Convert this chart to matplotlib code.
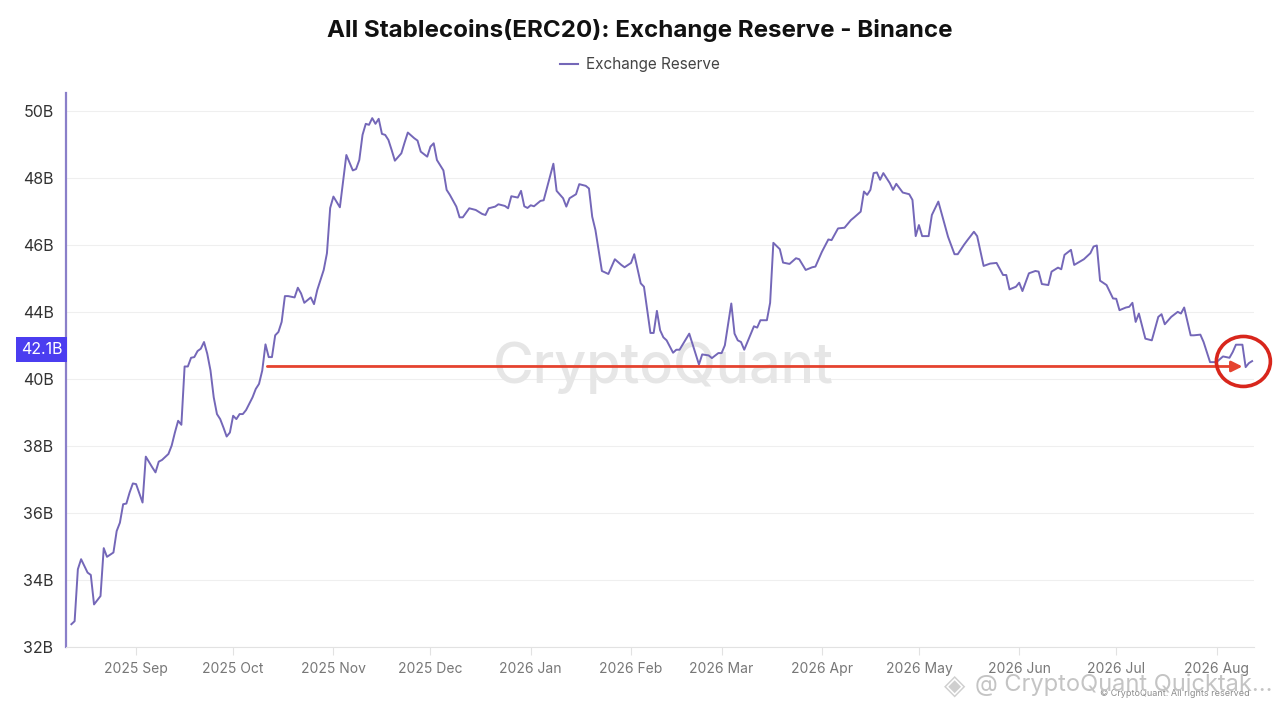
import numpy as np
import pandas as pd
import matplotlib
matplotlib.use('Agg')
import matplotlib.pyplot as plt
import matplotlib.dates as mdates
import matplotlib.transforms as mtransforms
from matplotlib.patches import Ellipse
from matplotlib.lines import Line2D

plt.rcParams['font.family'] = ['Inter', 'DejaVu Sans']

# ---- data (billions USD) ----
dates = [
    '2025-08-12', '2025-08-13', '2025-08-14', '2025-08-15', '2025-08-17', '2025-08-18', '2025-08-19',
    '2025-08-21', '2025-08-22', '2025-08-23', '2025-08-25', '2025-08-26', '2025-08-27', '2025-08-28',
    '2025-08-29', '2025-08-30', '2025-08-31', '2025-09-01', '2025-09-03', '2025-09-04', '2025-09-06',
    '2025-09-07', '2025-09-08', '2025-09-09', '2025-09-11', '2025-09-12', '2025-09-13', '2025-09-14',
    '2025-09-15', '2025-09-16', '2025-09-17', '2025-09-18', '2025-09-19', '2025-09-20', '2025-09-21',
    '2025-09-22', '2025-09-23', '2025-09-24', '2025-09-25', '2025-09-26', '2025-09-27', '2025-09-28',
    '2025-09-29', '2025-09-30', '2025-10-01', '2025-10-02', '2025-10-03', '2025-10-04', '2025-10-05',
    '2025-10-07', '2025-10-08', '2025-10-09', '2025-10-10', '2025-10-11', '2025-10-12', '2025-10-13',
    '2025-10-14', '2025-10-15', '2025-10-16', '2025-10-17', '2025-10-18', '2025-10-20', '2025-10-21',
    '2025-10-22', '2025-10-23', '2025-10-25', '2025-10-26', '2025-10-27', '2025-10-29', '2025-10-30',
    '2025-10-31', '2025-11-01', '2025-11-03', '2025-11-05', '2025-11-07', '2025-11-08', '2025-11-09',
    '2025-11-10', '2025-11-11', '2025-11-12', '2025-11-13', '2025-11-14', '2025-11-15', '2025-11-16',
    '2025-11-17', '2025-11-18', '2025-11-19', '2025-11-20', '2025-11-22', '2025-11-23', '2025-11-24',
    '2025-11-26', '2025-11-27', '2025-11-28', '2025-11-30', '2025-12-01', '2025-12-02', '2025-12-03',
    '2025-12-05', '2025-12-06', '2025-12-07', '2025-12-09', '2025-12-10', '2025-12-11', '2025-12-13',
    '2025-12-15', '2025-12-17', '2025-12-18', '2025-12-19', '2025-12-21', '2025-12-22', '2025-12-24',
    '2025-12-25', '2025-12-26', '2025-12-28', '2025-12-29', '2025-12-30', '2025-12-31', '2026-01-01',
    '2026-01-02', '2026-01-04', '2026-01-05', '2026-01-08', '2026-01-09', '2026-01-11', '2026-01-12',
    '2026-01-13', '2026-01-15', '2026-01-16', '2026-01-18', '2026-01-19', '2026-01-20', '2026-01-21',
    '2026-01-22', '2026-01-23', '2026-01-25', '2026-01-27', '2026-01-29', '2026-01-30', '2026-02-01',
    '2026-02-02', '2026-02-04', '2026-02-05', '2026-02-07', '2026-02-08', '2026-02-09', '2026-02-10',
    '2026-02-11', '2026-02-12', '2026-02-14', '2026-02-15', '2026-02-16', '2026-02-19', '2026-02-22',
    '2026-02-23', '2026-02-25', '2026-02-26', '2026-02-28', '2026-03-01', '2026-03-02', '2026-03-04',
    '2026-03-05', '2026-03-06', '2026-03-07', '2026-03-08', '2026-03-11', '2026-03-12', '2026-03-13',
    '2026-03-15', '2026-03-16', '2026-03-17', '2026-03-19', '2026-03-20', '2026-03-22', '2026-03-24',
    '2026-03-25', '2026-03-27', '2026-03-29', '2026-03-30', '2026-04-01', '2026-04-03', '2026-04-04',
    '2026-04-06', '2026-04-08', '2026-04-10', '2026-04-11', '2026-04-13', '2026-04-14', '2026-04-15',
    '2026-04-16', '2026-04-17', '2026-04-18', '2026-04-19', '2026-04-20', '2026-04-22', '2026-04-23',
    '2026-04-24', '2026-04-26', '2026-04-28', '2026-04-29', '2026-04-30', '2026-05-01', '2026-05-02',
    '2026-05-04', '2026-05-05', '2026-05-07', '2026-05-10', '2026-05-12', '2026-05-13', '2026-05-15',
    '2026-05-16', '2026-05-18', '2026-05-19', '2026-05-21', '2026-05-23', '2026-05-25', '2026-05-27',
    '2026-05-28', '2026-05-29', '2026-05-31', '2026-06-01', '2026-06-02', '2026-06-04', '2026-06-06',
    '2026-06-07', '2026-06-08', '2026-06-10', '2026-06-11', '2026-06-13', '2026-06-14', '2026-06-15',
    '2026-06-17', '2026-06-18', '2026-06-21', '2026-06-23', '2026-06-24', '2026-06-25', '2026-06-26',
    '2026-06-28', '2026-06-30', '2026-07-01', '2026-07-02', '2026-07-04', '2026-07-05', '2026-07-06',
    '2026-07-07', '2026-07-08', '2026-07-10', '2026-07-12', '2026-07-14', '2026-07-15', '2026-07-16',
    '2026-07-18', '2026-07-20', '2026-07-21', '2026-07-22', '2026-07-24', '2026-07-25', '2026-07-27',
    '2026-07-28', '2026-07-30', '2026-08-01', '2026-08-03', '2026-08-05', '2026-08-06', '2026-08-07',
    '2026-08-09', '2026-08-10', '2026-08-11', '2026-08-12',
]
reserve_b = [
    32.68, 32.77, 34.32, 34.62, 34.22, 34.15, 33.27,
    33.52, 34.95, 34.69, 34.82, 35.46, 35.71, 36.26,
    36.28, 36.61, 36.88, 36.86, 36.31, 37.68, 37.36,
    37.21, 37.53, 37.58, 37.76, 38.01, 38.40, 38.75,
    38.63, 40.74, 40.74, 41.26, 41.30, 41.66, 41.80,
    42.20, 41.50, 40.50, 39.45, 38.95, 38.80, 38.55,
    38.28, 38.40, 38.90, 38.80, 38.95, 38.95, 39.07,
    39.45, 39.70, 39.85, 40.50, 42.06, 41.30, 41.30,
    42.60, 42.80, 43.40, 44.47, 44.47, 44.43, 44.72,
    44.55, 44.27, 44.43, 44.23, 44.65, 45.25, 45.75,
    47.10, 47.44, 47.12, 48.68, 48.22, 48.26, 48.53,
    49.28, 49.61, 49.58, 49.78, 49.61, 49.76, 49.31,
    49.28, 49.13, 48.83, 48.51, 48.73, 49.05, 49.35,
    49.18, 49.11, 48.78, 48.63, 48.93, 49.03, 48.53,
    48.22, 47.64, 47.49, 47.14, 46.82, 46.82, 47.09,
    47.04, 46.92, 46.89, 47.09, 47.14, 47.21, 47.16,
    47.09, 47.45, 47.41, 47.61, 47.15, 47.10, 47.18,
    47.15, 47.31, 47.33, 48.42, 47.61, 47.39, 47.14,
    47.39, 47.51, 47.81, 47.76, 47.68, 46.84, 46.44,
    45.84, 45.22, 45.13, 45.57, 45.40, 45.33, 45.46,
    45.72, 44.85, 44.75, 42.74, 42.74, 44.03, 42.90,
    42.48, 42.30, 41.56, 41.74, 41.74, 42.70, 40.86,
    41.46, 41.40, 41.24, 41.54, 41.54, 42.00, 44.25,
    42.70, 42.30, 42.20, 41.74, 43.14, 43.06, 43.50,
    43.50, 44.27, 46.06, 45.87, 45.47, 45.43, 45.60,
    45.57, 45.25, 45.33, 45.35, 45.79, 46.16, 46.14,
    46.49, 46.51, 46.74, 46.82, 46.99, 47.59, 47.49,
    47.64, 48.14, 48.16, 47.94, 48.14, 47.84, 47.64,
    47.82, 47.56, 47.51, 47.34, 46.26, 46.59, 46.26,
    46.26, 46.89, 47.29, 46.24, 45.72, 45.72, 46.01,
    46.14, 46.39, 46.26, 45.37, 45.44, 45.46, 45.10,
    45.10, 44.67, 44.75, 44.87, 44.62, 45.15, 45.22,
    45.20, 44.83, 44.80, 45.20, 45.32, 45.27, 45.70,
    45.85, 45.40, 45.57, 45.75, 45.95, 45.98, 44.93,
    44.80, 44.40, 44.39, 44.05, 44.13, 44.15, 44.27,
    43.40, 43.90, 42.40, 42.30, 43.70, 43.86, 43.26,
    43.70, 44.00, 43.90, 44.13, 42.60, 42.60, 42.64,
    42.20, 41.00, 41.00, 41.34, 41.26, 41.60, 42.04,
    42.04, 40.70, 40.94, 41.06,
]

# axis tick values as printed on the chart (42B gridline is absent)
ytick_vals = [32, 34, 36, 38, 40, 44, 46, 48, 50]
ytick_labels = ['32B', '34B', '36B', '38B', '40B', '44B', '46B', '48B', '50B']

current_label = '42.1B'
current_label_y = 41.76

support_level = 40.74
arrow_start = '2025-10-11 14:00'
arrow_end = '2026-08-09'
circle_y = 41.04

title = 'All Stablecoins(ERC20): Exchange Reserve - Binance'
series_name = 'Exchange Reserve'

# ---- styling ----
line_color = '#7467b8'
red = '#e5432f'

tv = np.array(ytick_vals, float)
ti = np.arange(len(tv), dtype=float)


def fwd(v):
    # even spacing between printed ticks
    v = np.asarray(v, float)
    p = np.interp(v, tv, ti)
    p = np.where(v > tv[-1], ti[-1] + (v - tv[-1]) / 2., p)
    p = np.where(v < tv[0], (v - tv[0]) / 2., p)
    return p


def inv(p):
    p = np.asarray(p, float)
    v = np.interp(p, ti, tv)
    v = np.where(p > ti[-1], tv[-1] + (p - ti[-1]) * 2., v)
    v = np.where(p < 0, tv[0] + p * 2., v)
    return v


x = pd.to_datetime(dates)

fig = plt.figure(figsize=(12.8, 7.1), dpi=100)
fig.patch.set_facecolor('white')
ax = fig.add_axes([66 / 1280, 1 - 647 / 710, (1254 - 66) / 1280, (647 - 93) / 710])

ax.set_yscale('function', functions=(fwd, inv))
ax.plot(x, reserve_b, color=line_color, lw=1.4, zorder=3, label=series_name)

ax.set_xlim(pd.Timestamp('2025-08-10 08:00'), pd.Timestamp('2026-08-12 14:00'))
ax.set_ylim(32, 50.53)

ax.set_yticks(ytick_vals)
ax.set_yticklabels(ytick_labels)
ax.tick_params(axis='y', length=0, pad=9, labelsize=11.5, labelcolor='#333333')

ax.xaxis.set_major_locator(mdates.MonthLocator())
ax.xaxis.set_major_formatter(mdates.DateFormatter('%Y %b'))
ax.tick_params(axis='x', length=6, width=0.8, color='#e2e2e2', pad=5, labelsize=10, labelcolor='#777777')

ax.grid(axis='y', color='#efefef', lw=0.8)
ax.set_axisbelow(True)
for s in ['top', 'right']:
    ax.spines[s].set_visible(False)
ax.spines['left'].set_color('#8a7fc9')
ax.spines['left'].set_linewidth(1.6)
ax.spines['bottom'].set_color('#e2e2e2')
ax.spines['bottom'].set_linewidth(0.8)

# watermark
ax.text(0.5025, 0.5036, 'CryptoQuant', transform=ax.transAxes, ha='center', va='center',
        fontsize=40, fontweight='medium', color='#e6e6e6', zorder=1)

# current value tag on the y axis
trans = mtransforms.blended_transform_factory(ax.transAxes, ax.transData)
ax.text(-0.003, current_label_y, current_label, transform=trans, ha='right', va='center',
        color='white', fontsize=11.5, zorder=6, clip_on=False,
        bbox=dict(boxstyle='square,pad=0.3', fc='#4b3df0', ec='none'))

# red arrow along the support level
ax.annotate('', xy=(mdates.date2num(pd.Timestamp(arrow_end)), support_level),
            xytext=(mdates.date2num(pd.Timestamp(arrow_start)), support_level),
            arrowprops=dict(arrowstyle='-|>', color=red, lw=2.0, mutation_scale=16,
                            shrinkA=0, shrinkB=0), zorder=5)

# red circle around the latest values
cx, cy = ax.transData.transform((mdates.date2num(pd.Timestamp(arrow_end)) + 0.3, circle_y))
circ = Ellipse((cx, cy), 54, 50, transform=mtransforms.IdentityTransform(),
               fill=False, ec='#d8261c', lw=2.6, zorder=7)
fig.add_artist(circ)

# title and legend
fig.text(0.5, 1 - 30 / 710, title, ha='center', va='center', fontsize=17.4,
         fontweight='bold', color='#111111')
handle = Line2D([], [], color=line_color, lw=1.5)
fig.legend([handle], [series_name], loc='center', bbox_to_anchor=(0.5, 1 - 65 / 710),
           frameon=False, fontsize=11, handlelength=1.2, handletextpad=0.5,
           labelcolor='#444444')

# footer / overlays (they overlap in the source image too)
fig.text(1250 / 1280, 1 - 693 / 710, '\u00a9 CryptoQuant. All rights reserved', ha='right',
         va='center', fontsize=6.5, color='#8c8c8c')
fig.text(944 / 1280, 1 - 686 / 710, '\u25c8', ha='left', va='center', fontsize=20,
         color='#cfcfcf', family='DejaVu Sans')
fig.text(975 / 1280, 1 - 685 / 710, '@ CryptoQuant Quicktak...', ha='left', va='center',
         fontsize=17, color='#c4c4c4')

fig.savefig('out.png', dpi=100, facecolor='white')
